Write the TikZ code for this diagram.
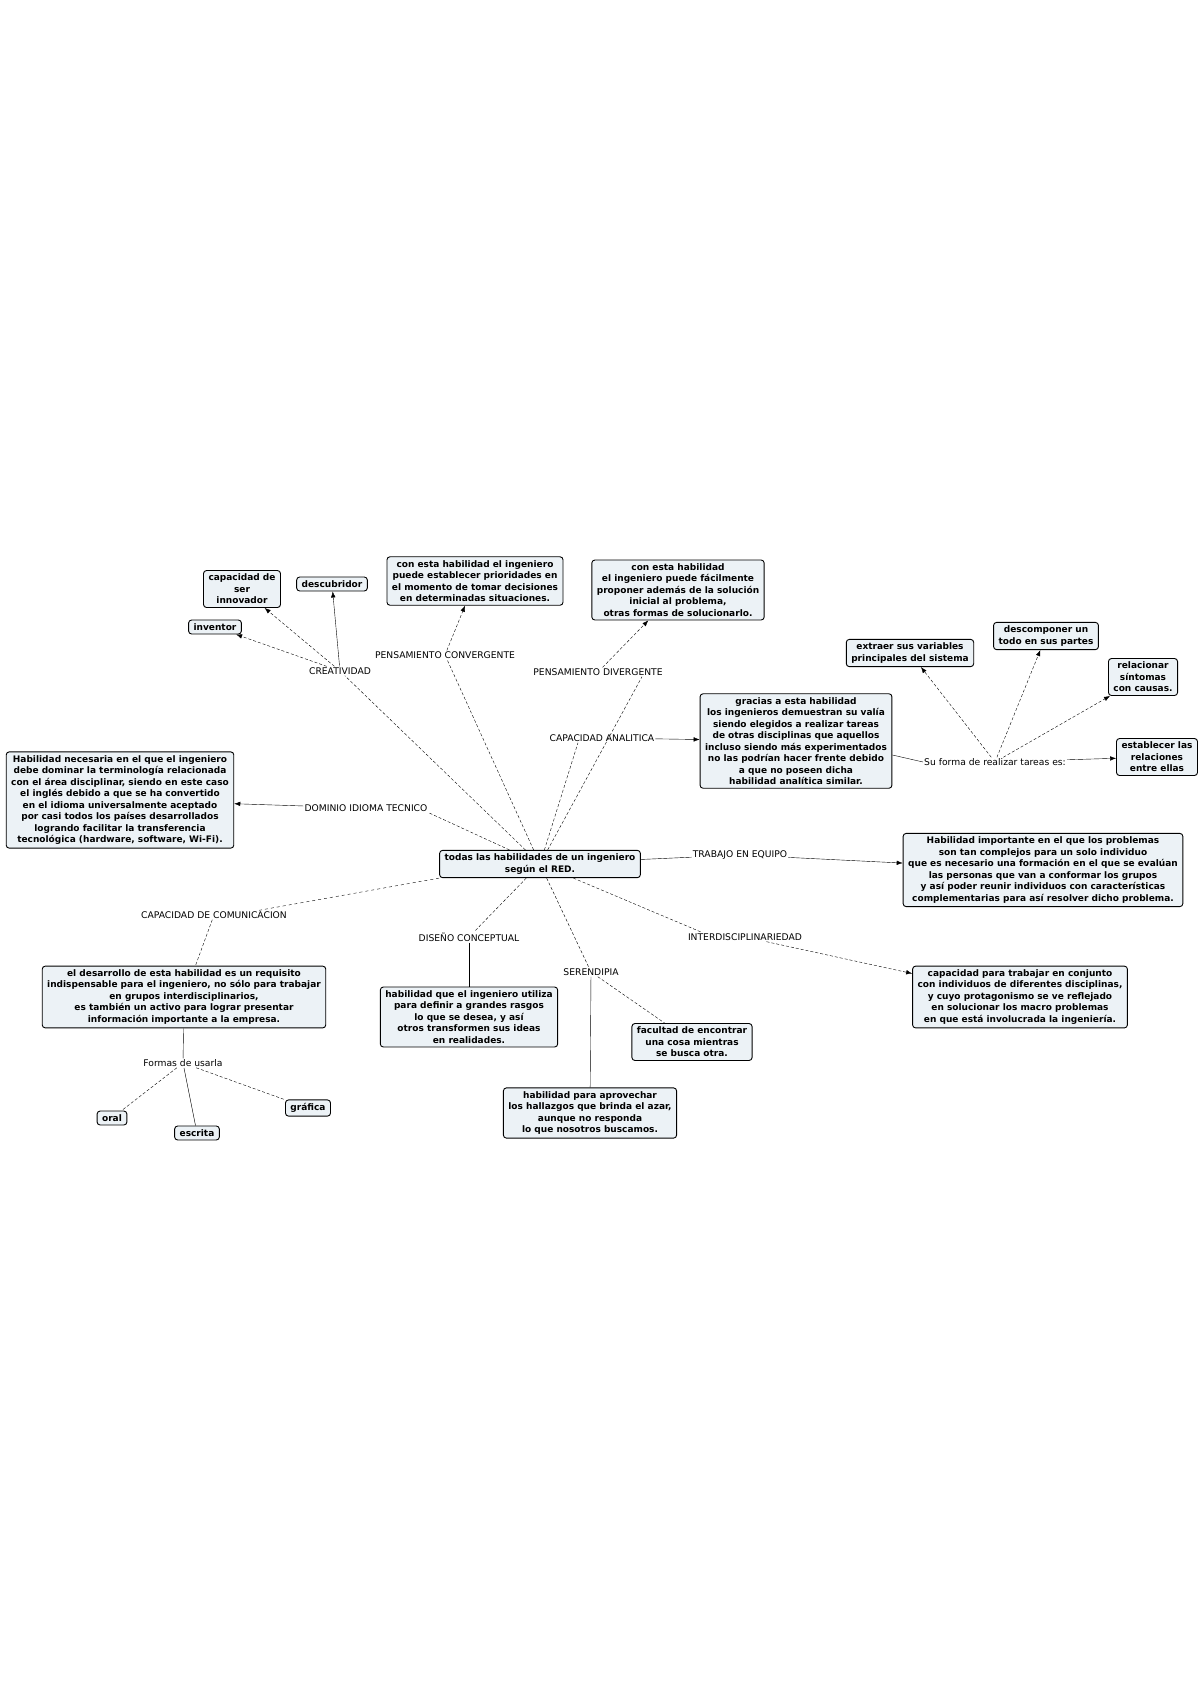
\documentclass[tikz,border=0pt]{standalone}
\usepackage{fontspec}
\setmainfont{DejaVu Sans}
\usetikzlibrary{arrows.meta}
\definecolor{boxfill}{RGB}{236,242,246}
\begin{document}
\begin{tikzpicture}[x=1pt,y=-1pt,
		every node/.style={font=\fontsize{9.2}{11.5}\selectfont},
		concept/.style={draw,rounded corners=3pt,fill=boxfill,align=center,inner xsep=5pt,inner ysep=3.5pt,line width=0.9pt,font=\bfseries\fontsize{9}{11.5}\selectfont},
		link/.style={align=center,inner sep=1pt},
		dsh/.style={densely dashed},
		arr/.style={-{Latex[length=6pt,width=4.5pt]}}]
		\useasboundingbox (0,0) rectangle (1200,1698);
		\node[concept] (red) at (540,864) {todas las habilidades de un ingeniero\\según el RED.};
		\node[link] (cre) at (340,671) {CREATIVIDAD};
		\node[concept] (inn) at (242,589) {capacidad de\\ser\\innovador};
		\node[concept] (dsc) at (332,584) {descubridor};
		\node[concept] (inv) at (215,627) {inventor};
		\node[link] (conv) at (445,655) {PENSAMIENTO CONVERGENTE};
		\node[concept] (pc) at (475,581) {con esta habilidad el ingeniero\\puede establecer prioridades en\\el momento de tomar decisiones\\en determinadas situaciones.};
		\node[link] (div) at (598,672) {PENSAMIENTO DIVERGENTE};
		\node[concept] (pd) at (678,590) {con esta habilidad\\el ingeniero puede fácilmente\\proponer además de la solución\\inicial al problema,\\otras formas de solucionarlo.};
		\node[link] (ana) at (602,738) {CAPACIDAD ANALITICA};
		\node[concept] (gra) at (796,741) {gracias a esta habilidad\\los ingenieros demuestran su valía\\siendo elegidos a realizar tareas\\de otras disciplinas que aquellos\\incluso siendo más experimentados\\no las podrían hacer frente debido\\a que no poseen dicha\\habilidad analítica similar.};
		\node[link] (forma) at (995,762) {Su forma de realizar tareas es:};
		\node[concept] (ext) at (910,653) {extraer sus variables\\principales del sistema};
		\node[concept] (dcp) at (1046,636) {descomponer un\\todo en sus partes};
		\node[concept] (rel) at (1143,677) {relacionar\\síntomas\\con causas.};
		\node[concept] (est) at (1157,757) {establecer las\\relaciones\\entre ellas};
		\node[link] (dom) at (366,808) {DOMINIO IDIOMA TECNICO};
		\node[concept] (nec) at (120,800) {Habilidad necesaria en el que el ingeniero\\debe dominar la terminología relacionada\\con el área disciplinar, siendo en este caso\\el inglés debido a que se ha convertido\\en el idioma universalmente aceptado\\por casi todos los países desarrollados\\logrando facilitar la transferencia\\tecnológica (hardware, software, Wi-Fi).};
		\node[link] (tra) at (740,855) {TRABAJO EN EQUIPO};
		\node[concept] (imp) at (1043,870) {Habilidad importante en el que los problemas\\son tan complejos para un solo individuo\\que es necesario una formación en el que se evalúan\\las personas que van a conformar los grupos\\y así poder reunir individuos con características\\complementarias para así resolver dicho problema.};
		\node[link] (inter) at (745,937) {INTERDISCIPLINARIEDAD};
		\node[concept] (cap) at (1020,997) {capacidad para trabajar en conjunto\\con individuos de diferentes disciplinas,\\y cuyo protagonismo se ve reflejado\\en solucionar los macro problemas\\en que está involucrada la ingeniería.};
		\node[link] (com) at (214,915) {CAPACIDAD DE COMUNICACION};
		\node[concept] (dev) at (184,997) {el desarrollo de esta habilidad es un requisito\\indispensable para el ingeniero, no sólo para trabajar\\en grupos interdisciplinarios,\\es también un activo para lograr presentar\\información importante a la empresa.};
		\node[link] (usa) at (183,1063) {Formas de usarla};
		\node[concept] (oral) at (112,1118) {oral};
		\node[concept] (esc) at (197,1133) {escrita};
		\node[concept] (graf) at (308,1108) {gráfica};
		\node[link] (dis) at (469,937) {DISEÑO CONCEPTUAL};
		\node[concept] (idea) at (469,1017) {habilidad que el ingeniero utiliza\\para definir a grandes rasgos\\lo que se desea, y así\\otros transformen sus ideas\\en realidades.};
		\node[link] (ser) at (591,972) {SERENDIPIA};
		\node[concept] (fac) at (692,1042) {facultad de encontrar\\una cosa mientras\\se busca otra.};
		\node[concept] (azar) at (590,1113) {habilidad para aprovechar\\los hallazgos que brinda el azar,\\aunque no responda\\lo que nosotros buscamos.};
		\draw[dsh] (red) -- (cre);
		\draw[dsh,arr] (cre) -- (inn);
		\draw[arr] (cre) -- (dsc);
		\draw[dsh,arr] (cre) -- (inv);
		\draw[dsh] (red) -- (conv);
		\draw[dsh,arr] (conv) -- (pc);
		\draw[dsh] (red) -- ([xshift=44pt]div.south);
		\draw[dsh,arr] (div) -- (pd);
		\draw[dsh] (red) -- ([xshift=-24pt]ana.south);
		\draw[arr] (ana) -- (gra);
		\draw ([yshift=-14pt]gra.east) -- (forma.west);
		\draw[dsh,arr] (forma) -- (ext);
		\draw[dsh,arr] (forma) -- (dcp);
		\draw[dsh,arr] (forma) -- (rel);
		\draw[arr] (forma) -- (est);
		\draw[dsh] (red) -- (dom.south east);
		\draw[arr] (dom) -- (nec);
		\draw (red) -- (tra);
		\draw[arr] (tra) -- (imp);
		\draw[dsh] (red) -- ([xshift=15pt]inter.north west);
		\draw[dsh,arr] (inter) -- (cap);
		\draw[dashed] (red.south west) -- ([xshift=45pt]com.north);
		\draw[dsh] (com) -- (dev);
		\draw (dev) -- (usa);
		\draw[dsh] (usa) -- (oral);
		\draw (usa) -- (esc);
		\draw[dsh] (usa) -- (graf);
		\draw[dsh] (red) -- (dis);
		\draw (dis) -- (idea);
		\draw[dsh] (red) -- (ser);
		\draw[dsh] (ser) -- (fac);
		\draw (ser) -- (azar);
	\end{tikzpicture}
\end{document}
